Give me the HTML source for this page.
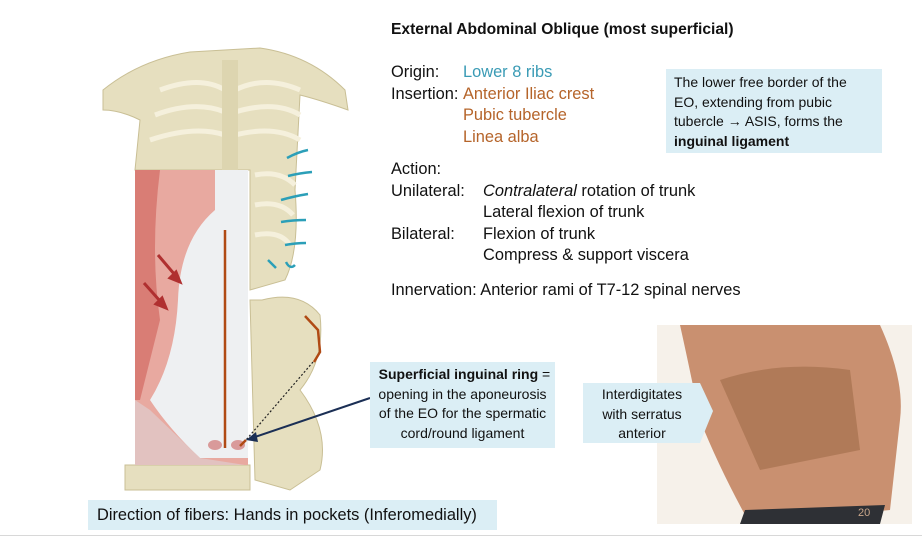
<!DOCTYPE html>
<html><head><meta charset="utf-8"><style>
body{margin:0;width:922px;height:538px;background:#fff;position:relative;overflow:hidden;font-family:"Liberation Sans",sans-serif;color:#111}
.t{position:absolute;white-space:nowrap;font-size:16.4px;line-height:21.5px}
.box{position:absolute;background:#dbeef5;font-size:14px;line-height:19.5px;color:#111}
.br{color:#b5642a}.bl{color:#3a9bb5}
</style></head><body>
<svg width="922" height="538" style="position:absolute;left:0;top:0">
 <g fill="#e6dfbf" stroke="#c9bf95" stroke-width="1">
  <path d="M103 90 Q140 60 190 52 L260 48 Q310 55 345 90 L348 110 Q320 100 300 95 L295 190 Q300 250 285 280 L250 290 L250 170 L135 170 L140 120 Q120 110 103 110 Z"/>
  <path d="M262 300 Q300 290 320 315 Q325 360 300 390 Q330 430 320 470 L290 490 L255 480 L250 300 Z"/>
  <path d="M125 465 L250 465 L250 490 L125 490 Z"/>
 </g>
 <g stroke="#f5f0dc" stroke-width="5" fill="none">
  <path d="M160 90 Q200 75 225 90"/><path d="M155 115 Q195 100 225 112"/><path d="M150 140 Q195 125 225 135"/>
  <path d="M235 90 Q265 75 300 90"/><path d="M235 112 Q275 100 300 115"/><path d="M235 135 Q275 125 300 140"/>
  <path d="M255 175 Q280 170 295 185"/><path d="M255 205 Q280 200 293 215"/><path d="M255 235 Q280 230 290 245"/>
 </g>
 <rect x="222" y="60" width="16" height="120" fill="#ddd5b0"/>
 <g stroke="#2b9fb8" stroke-width="2.5" fill="none">
  <path d="M287 158 Q298 152 308 150"/><path d="M288 176 Q300 173 312 172"/><path d="M281 200 Q295 196 308 194"/>
  <path d="M281 222 Q293 220 306 220"/><path d="M285 245 Q296 243 306 243"/><path d="M268 260 L276 268"/><path d="M286 262 Q290 270 295 265"/>
 </g>
 <rect x="135" y="170" width="113" height="295" fill="#e8a9a0"/>
 <path d="M135 170 L160 170 Q150 250 160 320 L140 400 L135 400 Z" fill="#d97d75"/>
 <path d="M215 170 L248 170 L248 458 L200 458 Q170 430 150 400 Q175 360 178 300 Q180 240 215 210 Z" fill="#eef0f2"/>
 <path d="M135 400 L150 410 L200 458 L245 465 L135 465 Z" fill="#e2c2c0"/>
 <line x1="225" y1="230" x2="225" y2="448" stroke="#b04a14" stroke-width="2.5"/>
 <g stroke="#b03030" stroke-width="3" fill="#b03030">
  <line x1="158" y1="255" x2="175" y2="275"/><polygon points="180,282 170,278 176,272"/>
  <line x1="144" y1="283" x2="160" y2="301"/><polygon points="166,308 156,304 162,298"/>
 </g>
 <ellipse cx="215" cy="445" rx="7" ry="5" fill="#d99a9a"/><ellipse cx="238" cy="445" rx="7" ry="5" fill="#d99a9a"/>
 <path d="M305 316 L318 330 L320 352 L314 362" stroke="#b04a14" stroke-width="2.5" fill="none"/>
 <path d="M240 446 L246 440" stroke="#b04a14" stroke-width="2.5"/>
 <line x1="313" y1="362" x2="246" y2="440" stroke="#222" stroke-width="1.2" stroke-dasharray="2,2"/>
 <line x1="370" y1="398" x2="252" y2="438" stroke="#1b2f55" stroke-width="2"/>
 <polygon points="246,440 256,432 258,442" fill="#1b2f55"/>
 <rect x="657" y="325" width="255" height="199" fill="#f6f1ea"/>
 <path d="M680 325 L880 325 Q905 380 900 420 L890 510 L750 524 Q720 470 700 420 Q690 370 680 325 Z" fill="#c99070"/>
 <path d="M720 380 Q780 360 850 370 L860 450 L760 470 Z" fill="#b07a58"/>
 <path d="M745 510 L885 505 L880 524 L740 524 Z" fill="#2e3035"/>
 <polygon points="583,383 700,383 713,411 700,443 583,443" fill="#dbeef5"/>
 <line x1="0" y1="535.5" x2="922" y2="535.5" stroke="#d8d8d8" stroke-width="1"/>
</svg>
<div class="t" style="left:391px;top:19px;font-weight:bold;font-size:15.6px">External Abdominal Oblique (most superficial)</div>
<div class="t" style="left:391px;top:62px">Origin:</div><div class="t bl" style="left:463px;top:62px">Lower 8 ribs</div>
<div class="t" style="left:391px;top:84px">Insertion:</div><div class="t br" style="left:463px;top:84px">Anterior Iliac crest</div>
<div class="t br" style="left:463px;top:105px">Pubic tubercle</div>
<div class="t br" style="left:463px;top:127px">Linea alba</div>
<div class="t" style="left:391px;top:159px">Action:</div>
<div class="t" style="left:391px;top:181px">Unilateral:</div><div class="t" style="left:483px;top:181px"><i>Contralateral</i> rotation of trunk</div>
<div class="t" style="left:483px;top:202px">Lateral flexion of trunk</div>
<div class="t" style="left:391px;top:224px">Bilateral:</div><div class="t" style="left:483px;top:224px">Flexion of trunk</div>
<div class="t" style="left:483px;top:245px">Compress &amp; support viscera</div>
<div class="t" style="left:391px;top:280px">Innervation: Anterior rami of T7-12 spinal nerves</div>
<div class="box" style="left:666px;top:69px;width:208px;height:76px;padding:4px 0 4px 8px;white-space:nowrap">The lower free border of the<br>EO, extending from pubic<br>tubercle → ASIS, forms the<br><b>inguinal ligament</b></div>
<div class="box" style="left:370px;top:362px;width:185px;height:83px;text-align:center;padding-top:3px;line-height:19.5px;white-space:nowrap">&nbsp;<b>Superficial inguinal ring</b> =<br>opening in the aponeurosis<br>of the EO for the spermatic<br>cord/round ligament</div>
<div class="t" style="left:583px;top:383px;width:118px;text-align:center;font-size:14px;line-height:19.5px;padding-top:2px">Interdigitates<br>with serratus<br>anterior</div>
<div class="box" style="left:88px;top:500px;width:400px;height:30px;padding-left:9px;font-size:16.4px;line-height:30px;white-space:nowrap">Direction of fibers: Hands in pockets (Inferomedially)</div>
<div class="t" style="left:858px;top:503px;font-size:11px;color:#c9a68a">20</div>
</body></html>
